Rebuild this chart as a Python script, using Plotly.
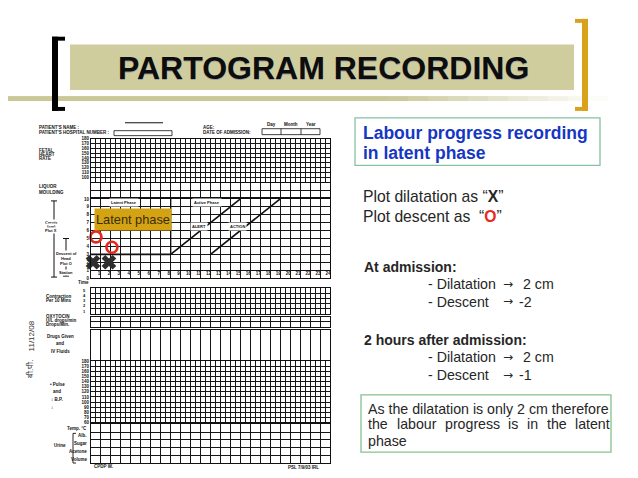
import plotly.graph_objects as go

# The page body has an 8px default margin, so the figure is drawn 8px in from the window edge.
OFF = 8
W, H = 638 - 2 * OFF, 478 - 2 * OFF
def px(x): return (x - OFF) / W
def py(y): return 1 - (y - OFF) / H

# ---------------- data ----------------
hours = list(range(1, 25))
cervix_ticks = list(range(0, 11))
fhr_ticks = [100, 110, 120, 130, 140, 150, 160, 170, 180]
pulse_ticks = [60, 70, 80, 90, 100, 110, 120, 130, 140, 150, 160, 170, 180]
contraction_ticks = [1, 2, 3, 4, 5]
urine_rows = ["Volume", "Acetone", "Sugar", "Alb.", "Temp. °C"]

latent_x = [0, 8]
latent_y = [3, 3]
alert_x = [8, 15]
alert_y = [3, 10]
action_x = [12, 19]
action_y = [3, 10]
dilatation_hours = [0.2, 1.8]
dilatation_cm = [2, 2]
descent_hours = [0.5, 2.1]
descent_level = [5.2, 3.9]

FONT = "Liberation Sans"
INK = "#111111"
GRID = "#161616"

fig = go.Figure()

# panels: (top px, bottom px, y range, y dtick, x dtick)
panels = [
    (138, 182, [90, 180], 10, 0.5),   # 1 fetal heart rate
    (183, 197, [0, 2], 1, 1),         # 2 liquor / moulding
    (199, 279, [0, 10], 1, 1),        # 3 cervicograph
    (289, 315, [0, 5], 1, 0.5),       # 4 contractions
    (318, 328, [0, 2], 1, 1),         # 5 oxytocin
    (331, 362, [0, 1], 1, 1),         # 6 drugs
    (363, 425, [60, 180], 10, 0.5),   # 7 pulse / BP
    (427, 466, [0, 5], 1, 1),         # 8 temp / urine
]

layout_axes = {}
for i, (top, bot, yr, ydt, xdt) in enumerate(panels, start=1):
    xk = "xaxis" if i == 1 else f"xaxis{i}"
    yk = "yaxis" if i == 1 else f"yaxis{i}"
    xr = "x" if i == 1 else f"x{i}"
    yrf = "y" if i == 1 else f"y{i}"
    layout_axes[xk] = dict(domain=[px(91), px(330)], range=[0, 24], dtick=xdt, tick0=0,
                           showgrid=True, gridcolor=GRID, gridwidth=1.1, zeroline=False,
                           showline=True, mirror=True, linecolor=INK, linewidth=1.4,
                           showticklabels=False, ticks="", anchor=yrf, fixedrange=True)
    layout_axes[yk] = dict(domain=[py(bot), py(top)], range=yr, dtick=ydt, tick0=yr[0],
                           showgrid=True, gridcolor=GRID, gridwidth=1.1, zeroline=False,
                           showline=True, mirror=True, linecolor=INK, linewidth=1.4,
                           showticklabels=False, ticks="", anchor=xr, fixedrange=True,
                           tickfont=dict(family=FONT, size=4.5, color=INK))
    fig.add_trace(go.Scatter(x=[None], y=[None], xaxis=xr, yaxis=yrf, showlegend=False,
                             hoverinfo="skip"))

layout_axes["yaxis"].update(showticklabels=True, tickvals=fhr_ticks,
                            ticktext=[f"<b>{v}</b>" for v in fhr_ticks])
layout_axes["yaxis3"].update(showticklabels=True, tickvals=cervix_ticks,
                             ticktext=[f"<b>{v}</b>" for v in cervix_ticks])
layout_axes["yaxis7"].update(showticklabels=True, tickvals=pulse_ticks,
                             ticktext=[f"<b>{v}</b>" for v in pulse_ticks])

# cervicograph lines
for xs, ys in [(latent_x, latent_y), (alert_x, alert_y), (action_x, action_y)]:
    fig.add_trace(go.Scatter(x=xs, y=ys, xaxis="x3", yaxis="y3", mode="lines",
                             line=dict(color=INK, width=1.7), showlegend=False, hoverinfo="skip"))
fig.add_trace(go.Scatter(x=[8, 8], y=[3, 10], xaxis="x3", yaxis="y3", mode="lines",
                         line=dict(color=INK, width=1.4), showlegend=False, hoverinfo="skip"))

# hour labels
fig.add_trace(go.Scatter(x=[h - 0.2 for h in hours], y=[0.5] * len(hours), xaxis="x3", yaxis="y3",
                         mode="text", text=[f"<b>{h}</b>" for h in hours],
                         textfont=dict(family=FONT, size=4.5, color=INK),
                         showlegend=False, hoverinfo="skip"))

# plotted marks
fig.add_trace(go.Scatter(x=dilatation_hours, y=dilatation_cm, xaxis="x3", yaxis="y3",
                         mode="markers", cliponaxis=False,
                         marker=dict(symbol="x", size=13, color="#2e2e2e", line=dict(width=0)),
                         showlegend=False, hoverinfo="skip"))
fig.add_trace(go.Scatter(x=descent_hours, y=descent_level, xaxis="x3", yaxis="y3",
                         mode="markers", cliponaxis=False,
                         marker=dict(symbol="circle-open", size=11, color="#e8281c",
                                     line=dict(width=2.6)),
                         showlegend=False, hoverinfo="skip"))

shapes = []
ann = []

def T(x, y, s, size=4.5, anchor="left", color=INK, bold=True, family=FONT, **kw):
    ann.append(dict(x=px(x), y=py(y), xref="paper", yref="paper", text=(f"<b>{s}</b>" if bold else s),
                    showarrow=False, xanchor=anchor, yanchor="middle", borderpad=0,
                    font=dict(family=family, size=size, color=color), **kw))

def R(x0, y0, x1, y1, fill=None, line=None, lw=0, opacity=1, layer="below"):
    shapes.append(dict(type="rect", xref="paper", yref="paper", x0=px(x0), x1=px(x1),
                       y0=py(y1), y1=py(y0), fillcolor=fill or "rgba(0,0,0,0)",
                       line=dict(color=line or "rgba(0,0,0,0)", width=lw),
                       opacity=opacity, layer=layer))

def L(x0, y0, x1, y1, color=INK, w=1):
    shapes.append(dict(type="line", xref="paper", yref="paper", x0=px(x0), x1=px(x1),
                       y0=py(y0), y1=py(y1), line=dict(color=color, width=w)))

# ---------- title area ----------
for k in range(30):
    x0 = k * 20 + OFF
    op = 1.0 if x0 < 380 else max(0.0, 1 - (x0 - 380) / 220)
    R(x0, 95, x0 + 20, 100, fill="#cac899", opacity=op)
R(70, 43, 574, 89, fill="#cfcc9d")
# black bracket
R(52, 35, 58, 110, fill="#000000", layer="above")
R(52, 35, 65, 39, fill="#000000", layer="above")
R(52, 106, 65, 110, fill="#000000", layer="above")
# gold bracket
R(582, 17, 588, 110, fill="#d9a21b", layer="above")
R(575, 17, 588, 21, fill="#d9a21b", layer="above")
R(575, 106, 588, 110, fill="#d9a21b", layer="above")
T(323.7, 67.7, "PARTOGRAM RECORDING", size=32, anchor="center", color="#a0a0a0")
T(323, 67, "PARTOGRAM RECORDING", size=32, anchor="center", color="#0d0d0d")

# ---------- right side texts ----------
TXT = "#262626"
R(355, 117, 600, 165, line="#86c2a4", lw=1.3)
T(362, 132, "Labour progress recording", size=17.5, color="#1537c4")
T(362, 153, "in latent phase", size=17.5, color="#1537c4")

ann.append(dict(x=px(362), y=py(197), xref="paper", yref="paper", showarrow=False,
                xanchor="left", yanchor="middle", borderpad=0,
                text="Plot dilatation as “<b>X</b>”",
                font=dict(family=FONT, size=15.7, color=TXT)))
ann.append(dict(x=px(362), y=py(217), xref="paper", yref="paper", showarrow=False,
                xanchor="left", yanchor="middle", borderpad=0,
                text="Plot descent as  “<b><span style='color:#e8281c'>O</span></b>”",
                font=dict(family=FONT, size=15.7, color=TXT)))

def entry(y, label, value):
    T(427, y, label, size=14.2, color=TXT, bold=False)
    T(502, y - 0.5, "→", size=12, color=TXT, bold=False, family="DejaVu Sans")
    T(518 if value.startswith("-") else 522, y, value, size=14.2, color=TXT, bold=False)

T(363, 268, "At admission:", size=14, color=TXT)
entry(285, "- Dilatation", "2 cm")
entry(303, "- Descent", "-2")
T(363, 342, "2 hours after admission:", size=14, color=TXT)
entry(359, "- Dilatation", "2 cm")
entry(377, "- Descent", "-1")

R(361, 397, 611, 455, line="#86c28e", lw=1.3)
T(367, 411, "As the dilatation is only 2 cm therefore", size=14.2, color=TXT, bold=False)
for wx, wd in [(367, "the"), (395.5, "labour"), (443.5, "progress"), (507, "is"),
               (526, "in"), (545.5, "the"), (573.5, "latent")]:
    T(wx, 427, wd, size=14.2, color=TXT, bold=False)
T(367, 443.5, "phase", size=14.2, color=TXT, bold=False)

# ---------- partogram sheet labels ----------
L(125, 122, 163, 122, w=1)
T(38, 127, "PATIENT'S NAME :")
T(38, 132, "PATIENT'S HOSPITAL NUMBER :")
R(114, 130, 172, 135, line=INK, lw=0.8)
T(202, 127, "AGE:")
T(202, 132, "DATE OF ADMISSION:")
R(262, 128, 320, 134, line=INK, lw=0.8)
L(281, 128, 281, 134, w=0.8)
L(301, 128, 301, 134, w=0.8)
T(271, 124, "Day", anchor="center")
T(291, 124, "Month", anchor="center")
T(311, 124, "Year", anchor="center")
T(38, 150, "FETAL")
T(38, 154, "HEART")
T(38, 158, "RATE")
T(38, 186, "LIQUOR")
T(38, 193, "MOULDING")

# cervix / descent bars
L(54, 201, 54, 278, w=1)
L(51, 201, 57, 201, w=1)
L(51, 278, 57, 278, w=1)
T(51, 223, "Cervix", anchor="center", size=4, bgcolor="white")
T(51, 227, "(cm)", anchor="center", size=4, bgcolor="white")
T(51, 231, "Plot X", anchor="center", size=4, bgcolor="white")
L(66, 239, 66, 277, w=1)
L(63, 239, 69, 239, w=1)
L(63, 277, 69, 277, w=1)
T(66, 254, "Descent of", anchor="center", size=4, bgcolor="white")
T(66, 259, "Head", anchor="center", size=4, bgcolor="white")
T(66, 264, "Plot O", anchor="center", size=4, bgcolor="white")
T(66, 273, "Station", anchor="center", size=4, bgcolor="white")
T(83, 283, "Time", anchor="center", size=4.5)

T(45, 298, "Contraction")
T(45, 302, "Per 10 Mins")
T(45, 318, "OXYTOCIN")
T(45, 322, "U/L drops/min")
T(45, 326, "Drops/Min.")
T(60, 338, "Drugs Given", anchor="center")
T(60, 345, "and", anchor="center")
T(60, 353, "IV Fluids", anchor="center")
T(57, 387, "• Pulse", anchor="center")
T(57, 394, "and", anchor="center")
T(57, 402, "↕ B.P.", anchor="center")
T(52, 410, "↕", anchor="center")

for k, name in enumerate(urine_rows):
    T(88, 462 - k * 7.8, name, anchor="right")
T(60, 448, "Urine", anchor="center")
L(73, 436, 73, 466, w=0.9)
L(73, 436, 76, 436, w=0.9)
L(73, 466, 76, 466, w=0.9)
T(93, 469, "CPDP W.", size=4.5)
T(287, 470, "PSL 7/9/03 IRL", size=4.5)

# contraction row labels
for c in contraction_ticks:
    ann.append(dict(x=px(88), y=c - 0.5, xref="paper", yref="y4", text=f"<b>{c}</b>",
                    showarrow=False, xanchor="right", yanchor="middle",
                    font=dict(family=FONT, size=4, color=INK)))

# inside cervicograph labels
for xh, yc, s in [(3.3, 9.55, "Latent Phase"), (11.6, 9.55, "Active Phase"),
                  (10.8, 6.5, "ALERT"), (14.7, 6.5, "ACTION")]:
    ann.append(dict(x=xh, y=yc, xref="x3", yref="y3", text=f"<b>{s}</b>", showarrow=False,
                    font=dict(family=FONT, size=4, color=INK), bgcolor="white",
                    borderpad=1))

# Latent phase highlight label
ann.append(dict(x=px(133), y=py(219.5), xref="paper", yref="paper", text="Latent phase",
                showarrow=False, xanchor="center", yanchor="middle", width=74, height=19,
                bgcolor="#d4a314", font=dict(family=FONT, size=12.8, color="#3a2d08")))

# handwriting on the left margin
T(31, 338, "11/12/08", size=8, anchor="center", color="#333333", bold=False, textangle=-90)
T(30, 371, "बी.पी.", size=8, anchor="center", color="#333333", bold=False, textangle=-90)

fig.update_layout(width=W, height=H, margin=dict(l=0, r=0, t=0, b=0),
                  paper_bgcolor="white", plot_bgcolor="white", showlegend=False,
                  shapes=shapes, annotations=ann, **layout_axes)

fig.write_html("out.html")
